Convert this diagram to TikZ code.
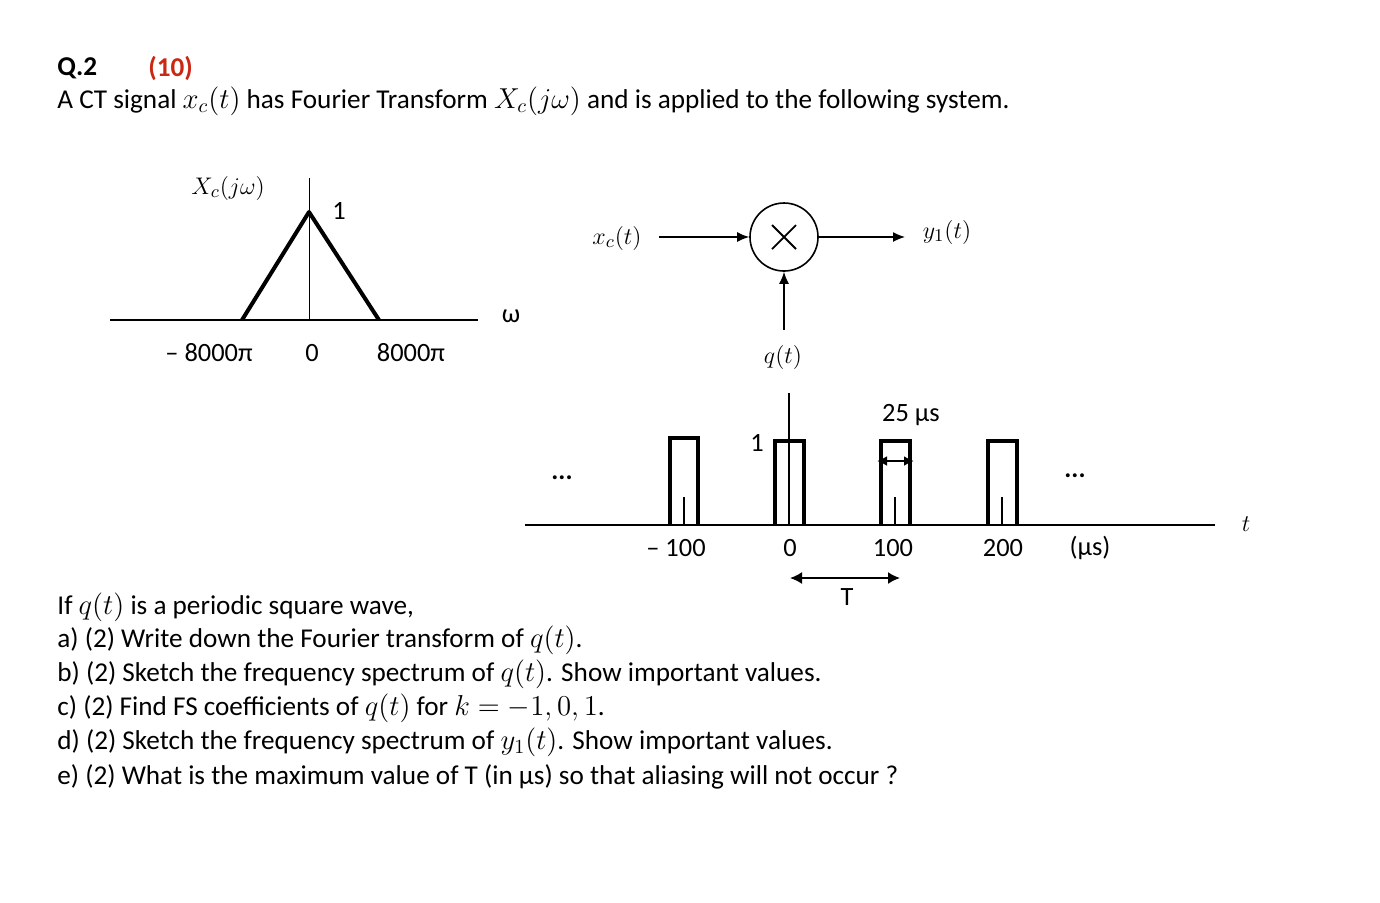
\documentclass[tikz,border=0pt]{standalone}
\usepackage{amsmath}
\usepackage{fontspec}
\setmainfont{Carlito}
\usetikzlibrary{arrows.meta}
\definecolor{qred}{RGB}{200,40,20}
\begin{document}
\begin{tikzpicture}[x=0.5pt,y=-0.5pt,
  txt/.style={inner sep=0pt,font=\fontsize{13.6}{16}\selectfont},
  lbl/.style={inner sep=0pt,font=\fontsize{13.2}{16}\selectfont},
  thin/.style={line width=0.6pt},
  bold/.style={line width=2pt},
  pulse/.style={line width=1.8pt},
  arr/.style={-{Latex[length=6pt,width=5pt]},line width=0.7pt}]
\useasboundingbox (0,0) rectangle (1380,902);
% header
\node[txt,anchor=west] (q2) at (57,68) {\textbf{Q.2}};
\node[txt,anchor=west,text=qred] (pts) at (148,68) {\textbf{(10)}};
\node[txt,anchor=west] (intro) at (57,101) {A CT signal $x_c(t)$ has Fourier Transform $X_c(j\omega)$ and is applied to the following system.};
% spectrum
\draw[thin] (110,320) -- (478,320);
\draw[line width=0.4pt] (309,178) -- (309,320);
\draw[bold,line join=round] (242,320) -- (309,212) -- (379,320);
\node[lbl] (xcj) at (228,188) {$X_c(j\omega)$};
\node[lbl] (one1) at (339,211) {1};
\node[lbl] (om) at (511,316) {ω};
\node[lbl] (m8) at (209,353) {– 8000π};
\node[lbl] (z1) at (312,353) {0};
\node[lbl] (p8) at (411,353) {8000π};
% system
\node[lbl] (xin) at (617,238) {$x_c(t)$};
\node[draw,circle,minimum size=68pt*0.5,line width=0.8pt,inner sep=0pt] (mul) at (784,237) {};
\draw[line width=0.9pt] (772,225) -- (796,249) (772,249) -- (796,225);
\node[lbl] (yout) at (947,232) {$y_1(t)$};
\coordinate (xstart) at (659,237);
\coordinate (yend) at (905,237);
\coordinate (qstart) at (784,330);
\draw[arr] (xstart) -- (mul);
\draw[arr] (mul) -- (yend);
\draw[arr] (qstart) -- (mul);
\node[lbl] (qlab) at (783,357) {$q(t)$};
% pulse train
\draw[thin] (525,525) -- (1215,525);
\node[lbl] (tlab) at (1246,524) {$t$};
\draw[thin] (789,393) -- (789,525);
\draw[pulse] (670,525) -- (670,438) -- (698,438) -- (698,525);
\draw[pulse] (775,525) -- (775,441) -- (804,441) -- (804,525);
\draw[pulse] (881,525) -- (881,441) -- (910,441) -- (910,525);
\draw[pulse] (988,525) -- (988,441) -- (1017,441) -- (1017,525);
\foreach \x in {684,895,1002} \draw[thin] (\x,497) -- (\x,525);
\node[lbl] (one2) at (757,443) {1};
\node[lbl] (w25) at (911,415) {25 µs};
\coordinate (wa) at (877,461);
\coordinate (wb) at (914,461);
\draw[{Latex[length=5pt,width=5pt]}-{Latex[length=5pt,width=5pt]},line width=1.4pt] (wa) -- (wb);
\node[lbl] (d1) at (562,478) {\textbf{...}};
\node[lbl] (d2) at (1075,476) {\textbf{...}};
\node[lbl] (tm100) at (676,548) {– 100};
\node[lbl] (t0) at (790,548) {0};
\node[lbl] (t100) at (893,548) {100};
\node[lbl] (t200) at (1003,548) {200};
\node[lbl] (tus) at (1090,548) {(µs)};
\coordinate (ta) at (790,578);
\coordinate (tb) at (900,578);
\draw[{Latex[length=6pt,width=6pt]}-{Latex[length=6pt,width=6pt]},line width=0.9pt] (ta) -- (tb);
\node[lbl] (Tl) at (847,597) {T};
% questions
\node[txt,anchor=west] (l1) at (57,607) {If $q(t)$ is a periodic square wave,};
\node[txt,anchor=west] (l2) at (57,640) {a) (2) Write down the Fourier transform of $q(t)$.};
\node[txt,anchor=west] (l3) at (57,674) {b) (2) Sketch the frequency spectrum of $q(t)$. Show important values.};
\node[txt,anchor=west] (l4) at (57,708) {c) (2) Find FS coefficients of $q(t)$ for $k=-1,0,1$.};
\node[txt,anchor=west] (l5) at (57,742) {d) (2) Sketch the frequency spectrum of $y_1(t)$. Show important values.};
\node[txt,anchor=west] (l6) at (57,777) {e) (2) What is the maximum value of T (in µs) so that aliasing will not occur ?};
\end{tikzpicture}
\end{document}
